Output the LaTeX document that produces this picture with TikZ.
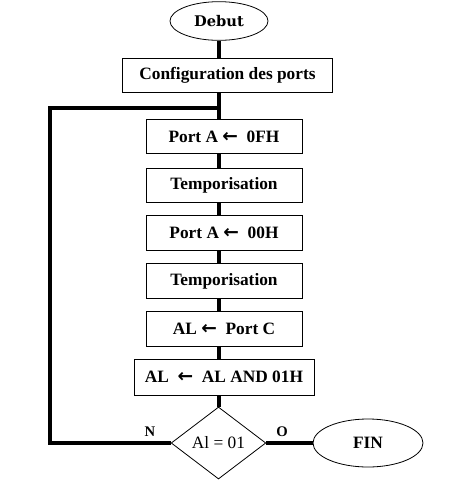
\documentclass[tikz,border=0pt]{standalone}
\usepackage{fontspec}
\setmainfont{Liberation Serif}
\newfontfamily\debutfont{DejaVu Serif}
\newfontfamily\arrowfont{DejaVu Sans}
\usetikzlibrary{shapes.geometric}

\newcommand{\getsto}{{\arrowfont\bfseries\fontsize{14}{14}\selectfont ←}}

\begin{document}
\begin{tikzpicture}
[x=0.75pt,y=-0.75pt,%
  every node/.style={inner sep=0pt,draw,line width=0.6pt,fill=white,
    font=\fontsize{13}{15}\selectfont\bfseries},%
  action/.style={shape=rectangle,minimum width=117pt,minimum height=26pt},%
  flow/.style={-,line width=3pt},%
  tag/.style={draw=none,fill=none,font=\fontsize{11}{13}\selectfont\bfseries}]
\useasboundingbox (0,0) rectangle (449,494);
\node[shape=ellipse,minimum width=73.5pt,minimum height=29pt,
  font=\fontsize{11}{13}\selectfont\debutfont\bfseries] (debut) at (219,21) {Debut};
\node[action,minimum width=158pt,minimum height=25pt] (config) at (227.5,75.5) {Configuration des ports};
\node[action] (porta1) at (224,136.5) {Port A \getsto\ \ 0FH};
\node[action] (tempo1) at (224,185.5) {Temporisation};
\node[action] (porta2) at (224,233) {Port A \getsto\ \ 00H};
\node[action] (tempo2) at (224,281) {Temporisation};
\node[action] (alpc) at (224,329) {AL \getsto\ \ Port C};
\node[action,minimum width=135pt,minimum height=27pt] (aland) at (224,377) {AL \ \getsto\ \ AL AND 01H};
\node[shape=diamond,minimum width=71pt,minimum height=54pt,
  font=\fontsize{13}{15}\selectfont] (test) at (218.5,443) {Al = 01};
\node[shape=ellipse,minimum width=82.5pt,minimum height=36pt] (fin) at (368,443) {FIN\hspace{8pt}};
\coordinate (loop) at (218,108);
\coordinate (back) at (50,108);
% main spine
\draw[flow] (debut.south) -- (debut.south |- config.north);
\foreach \a/\b in {config/porta1,porta1/tempo1,tempo1/porta2,porta2/tempo2,tempo2/alpc,alpc/aland,aland/test}
  \draw[flow] (debut.south |- \a.south) -- (debut.south |- \b.north);
% loop back and exit
\draw[flow] (test.west) -| (back) -- (loop);
\draw[flow] (test.east) -- (fin.west);
\node[tag] (non) at (150,432) {N};
\node[tag] (oui) at (282,432) {O};
\end{tikzpicture}
\end{document}
